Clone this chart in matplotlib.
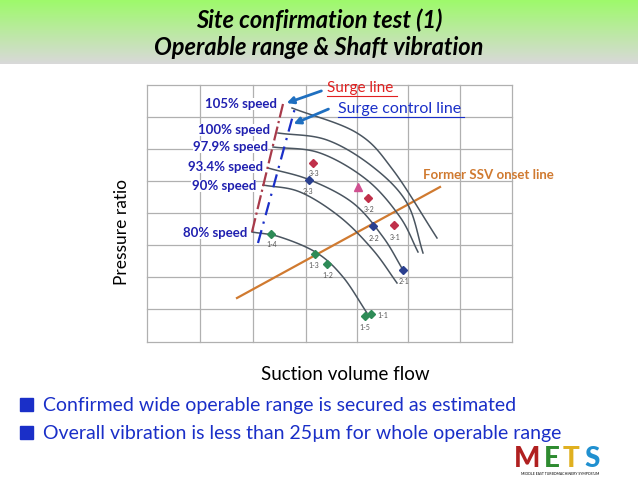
import numpy as np
import matplotlib.pyplot as plt

# all positions in pixel units (x right, y down)
speed_names = ["105% speed", "100% speed", "97.9% speed", "93.4% speed", "90% speed", "80% speed"]
speed_label_x = [277, 270, 268, 263, 256, 247]
speed_label_y = [104, 130, 147, 167, 186, 233]
curve_x = [
    [292, 357, 393, 437],
    [278, 327, 373, 407, 423],
    [273, 320, 367, 400, 418],
    [268, 310, 353, 383, 403],
    [263, 300, 340, 373, 397],
    [252, 280, 317, 343, 367],
]
curve_y = [
    [108, 133, 170, 238],
    [133, 140, 167, 203, 253],
    [147, 153, 180, 217, 252],
    [168, 180, 203, 237, 270],
    [185, 192, 217, 250, 283],
    [232, 237, 253, 277, 313],
]
surge_x, surge_y = [252, 283], [232, 104]
control_x, control_y = [258, 295], [243, 108]
ssv_x, ssv_y = [237, 440], [298, 187]

pts_names = ["3-3", "3-2", "3-1", "2-3", "2-2", "2-1", "1-4", "1-3", "1-2", "1-1", "1-5"]
pts_x = [313, 368, 394, 309, 373, 403, 271, 315, 327, 371, 365]
pts_y = [163, 198, 225, 180, 226, 270, 234, 254, 264, 314, 316]
pts_color = ["#c0304a"] * 3 + ["#2a3f8f"] * 3 + ["#2e8b57"] * 5
lbl_dx = [1, 1, 1, -1, 1, 1, 1, -1, 1, 12, 0]
lbl_dy = [10, 12, 12, 11, 12, 12, 10, 11, 11, 2, 12]
tri_x, tri_y = [358], [187]

grid_x = [147, 200, 253, 306, 357, 408, 460, 512]
grid_y = [85, 117, 149, 181, 213, 245, 277, 309, 342]


def smooth(xs, ys, n=20):
    # Catmull-Rom through the read points, just for drawing
    p = np.column_stack([xs, ys]).astype(float)
    p = np.vstack([2 * p[0] - p[1], p, 2 * p[-1] - p[-2]])
    out = []
    t = np.linspace(0, 1, n)[:, None]
    for i in range(1, len(p) - 2):
        p0, p1, p2, p3 = p[i - 1], p[i], p[i + 1], p[i + 2]
        seg = 0.5 * ((2 * p1) + (-p0 + p2) * t + (2 * p0 - 5 * p1 + 4 * p2 - p3) * t ** 2
                     + (-p0 + 3 * p1 - 3 * p2 + p3) * t ** 3)
        out.append(seg)
    out = np.vstack(out)
    return out[:, 0], out[:, 1]


plt.rcParams["font.family"] = ["Lato", "DejaVu Sans"]
fig = plt.figure(figsize=(6.38, 4.78), dpi=100)
ax = fig.add_axes([0, 0, 1, 1])
ax.set_xlim(0, 638)
ax.set_ylim(478, 0)
ax.axis("off")

# title band: green to grey
grad = np.linspace(0, 1, 64)[:, None]
top = np.array([0.62, 0.98, 0.42])
bot = np.array([0.85, 0.85, 0.85])
band = top + (bot - top) * grad[..., None]
band = np.repeat(band, 2, axis=1)
ax.imshow(band, extent=[0, 638, 64, 0], aspect="auto", zorder=0)
ax.text(319, 20, "Site confirmation test (1)", ha="center", va="center",
        fontsize=17, fontweight="bold", style="italic")
ax.text(319, 47, "Operable range & Shaft vibration", ha="center", va="center",
        fontsize=17, fontweight="bold", style="italic")

# grid
for gx in grid_x:
    ax.plot([gx, gx], [grid_y[0], grid_y[-1]], color="#b0b0b0", lw=0.9, zorder=1)
for gy in grid_y:
    ax.plot([grid_x[0], grid_x[-1]], [gy, gy], color="#b0b0b0", lw=0.9, zorder=1)

for xs, ys in zip(curve_x, curve_y):
    sx, sy = smooth(xs, ys)
    ax.plot(sx, sy, color="#4a5560", lw=1.1, zorder=3)

ax.plot(surge_x, surge_y, color="#a83a4a", lw=1.6, ls="-.", zorder=4)
ax.plot(control_x, control_y, color="#1a2fc8", lw=1.6, ls=(0, (6, 3, 1, 3)), zorder=4)
ax.plot(ssv_x, ssv_y, color="#d07a30", lw=1.6, zorder=2)

for name, x, y, c, dx, dy in zip(pts_names, pts_x, pts_y, pts_color, lbl_dx, lbl_dy):
    ax.plot(x, y, marker="D", ms=4, color=c, zorder=5)
    ax.text(x + dx, y + dy, name, fontsize=5, color="#555555", ha="center", va="center", zorder=5)
ax.plot(tri_x, tri_y, marker="^", ms=6, color="#d05090", ls="none", zorder=5)

for name, x, y in zip(speed_names, speed_label_x, speed_label_y):
    ax.text(x, y, name, ha="right", va="center", fontsize=9.5,
            fontweight="bold", color="#2020b0", zorder=6,
            bbox=dict(facecolor="white", edgecolor="none", pad=0.3))

ax.text(327, 88, "Surge line", fontsize=11, color="#e02020", va="center", zorder=6)
ax.plot([327, 397], [96, 96], color="#e02020", lw=0.8)
ax.text(338, 109, "Surge control line", fontsize=11.5, color="#1a2fc8", va="center", zorder=6)
ax.plot([338, 464], [117, 117], color="#1a2fc8", lw=0.8)
ax.annotate("", xy=(284, 104), xytext=(324, 90),
            arrowprops=dict(arrowstyle="-|>", color="#1f6fc0", lw=2), zorder=6)
ax.annotate("", xy=(291, 125), xytext=(331, 108),
            arrowprops=dict(arrowstyle="-|>", color="#1f6fc0", lw=2), zorder=6)
ax.text(423, 175, "Former SSV onset line", fontsize=9.5, fontweight="bold",
        color="#d07a30", va="center", zorder=6)

ax.text(122, 232, "Pressure ratio", rotation=90, fontsize=12.5, ha="center", va="center")
ax.text(345, 374, "Suction volume flow", fontsize=13.5, ha="center", va="center")

for y, txt in zip([405, 433], ["Confirmed wide operable range is secured as estimated",
                              "Overall vibration is less than 25µm for whole operable range"]):
    ax.add_patch(plt.Rectangle((20, y - 7), 13, 13, color="#1a2fc8"))
    ax.text(43, y, txt, fontsize=14, color="#1a2fc8", va="center")

# logo
for letter, x, c in zip("METS", [527, 552, 571, 592], ["#b02020", "#2e8b30", "#e0b020", "#2090d0"]):
    ax.text(x, 459, letter, fontsize=20, fontweight="black", color=c, va="center", ha="center")
ax.text(560, 474, "MIDDLE EAST TURBOMACHINERY SYMPOSIUM", fontsize=2.5, ha="center", va="center")

fig.savefig("out.png", dpi=100)
